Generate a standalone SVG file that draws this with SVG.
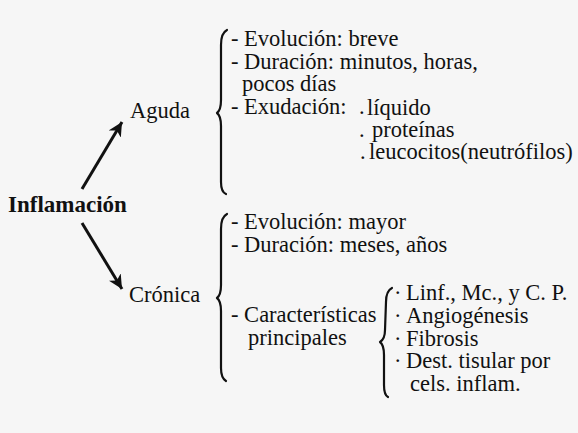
<svg xmlns="http://www.w3.org/2000/svg" width="578" height="433" viewBox="0 0 578 433">
<style>
text{font-family:"Liberation Serif","Times New Roman",serif;font-size:22.5px;fill:#111}
.title{font-weight:bold;font-size:23px}
.brace{fill:none;stroke:#111;stroke-width:2.2;stroke-linecap:round;stroke-linejoin:round}
.arrow{stroke:#111;stroke-width:3;fill:none}
</style>
<defs>
<marker id="ah" markerUnits="userSpaceOnUse" markerWidth="16" markerHeight="14" refX="14" refY="7" orient="auto">
<path d="M0,0 L14,7 L0,14 L4,7 z" fill="#111"/>
</marker>
</defs>
<rect width="578" height="433" fill="#f6f6f6"/>
<g id="connectors">
<line class="arrow" x1="82" y1="189" x2="122" y2="122" marker-end="url(#ah)"/>
<line class="arrow" x1="82" y1="223" x2="122" y2="289" marker-end="url(#ah)"/>
<path class="brace" d="M227,30 Q221,33 221,45 L221,100 Q221,110 217,113 Q221,116 221,126 L221,182 Q221,192 226,194"/>
<path class="brace" d="M227,214 Q221,217 221,229 L221,285 Q221,295 217,298 Q221,301 221,311 L221,368 Q221,378 226,381"/>
<path class="brace" d="M392,288 Q386,291 386,302 L385,330 Q385,339 380,342 Q384,345 384,355 L384,385 Q384,395 388,397"/>
</g>
<g id="inflamacion"><text class="title" x="8" y="212">Inflamación</text></g>
<g id="aguda"><text x="130" y="118">Aguda</text></g>
<g id="cronica"><text x="129" y="302">Crónica</text></g>
<g id="aguda-detalle">
<text x="231" y="46">- Evolución: breve</text>
<text x="231" y="69">- Duración: minutos, horas,</text>
<text x="242" y="91">pocos días</text>
<text x="231" y="114">- Exudación:</text>
<text x="359" y="114">.</text><text x="367" y="115">líquido</text>
<text x="359" y="137">.</text><text x="372" y="137">proteínas</text>
<text x="360" y="159">.</text><text x="369" y="159">leucocitos(neutrófilos)</text>
</g>
<g id="cronica-detalle">
<text x="231" y="229">- Evolución: mayor</text>
<text x="231" y="252">- Duración: meses, años</text>
<text x="231" y="322">- Características</text>
<text x="248" y="345">principales</text>
</g>
<g id="caracteristicas">
<text x="394" y="300">·</text><text x="406" y="300">Linf., Mc., y C. P.</text>
<text x="394" y="323">·</text><text x="406" y="323">Angiogénesis</text>
<text x="394" y="346">·</text><text x="406" y="346">Fibrosis</text>
<text x="394" y="368">·</text><text x="406" y="368">Dest. tisular por</text>
<text x="410" y="391">cels. inflam.</text>
</g>
</svg>
